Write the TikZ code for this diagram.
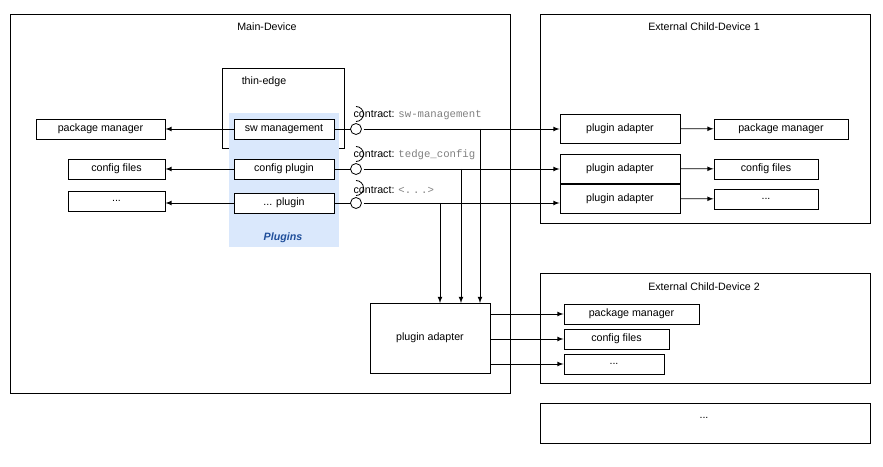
\documentclass[tikz,border=0pt]{standalone}
\usepackage{fontspec}
\setmainfont{Liberation Sans}
\setmonofont{Liberation Mono}
\usetikzlibrary{arrows,calc}
\tikzset{>=latex}
\definecolor{pluginbg}{HTML}{DAE8FC}
\definecolor{pluginfg}{HTML}{1F4E9A}
\definecolor{contractgray}{HTML}{808080}
\newcommand\anycontract{<.\,.\,.>}

\begin{document}
\begin{tikzpicture}[x=0.75pt,y=-0.75pt,font=\fontsize{8}{9}\selectfont,
    box/.style={draw,fill=white,thick,line width=0.7pt},
    con/.style={line width=0.6pt}]
    \useasboundingbox (0,0) rectangle (883,467);

    % device frames
    \draw[box] (10,14) rectangle (510,393);
    \node at (267,27) {Main-Device};
    \draw[box] (540,14) rectangle (870,223);
    \node at (704,27) {External Child-Device 1};
    \draw[box] (540,273) rectangle (870,383);
    \node at (704,287) {External Child-Device 2};
    \draw[box] (540,403) rectangle (870,443);
    \node at (704,418) {...};

    \draw[box] (222,68) rectangle (344,148);
    \node at (264,82) {thin-edge};
    \fill[pluginbg] (229,113) rectangle (339,247);
    \node[text=pluginfg,font=\fontsize{8}{9}\selectfont\bfseries\itshape] at (283,238) {Plugins};

    % plugins
    \node[box,minimum width=75pt,minimum height=15pt] (sw) at (284,129) {sw management};
    \node[box,minimum width=75pt,minimum height=15pt] (cfg) at (284,169) {config plugin};
    \node[box,minimum width=75pt,minimum height=15pt] (dots) at (284,203) {... plugin};

    % local targets
    \node[box,minimum width=96.75pt,minimum height=15pt] (pmL) at (100.5,129) {package manager};
    \node[box,minimum width=72.75pt,minimum height=15pt] (cfL) at (116.5,169) {config files};
    \node[box,minimum width=72.75pt,minimum height=15pt] (dtL) at (116.5,201) {...};
    \draw[con,->] (sw) -- (pmL);
    \draw[con,->] (cfg) -- (cfL);
    \draw[con,->] (dots.west) -- (dtL.east |- dots.west);

    % contracts
    \foreach \n/\y/\c in {cS/129/sw-management,cC/169/tedge\_config,cD/203/\anycontract}{
        \coordinate (\n) at (356,\y);
        \draw[con,fill=white] (\n) circle (5.5);
        \draw[con] ($(\n)+(0,-7.5)$) arc (90:-90:7.5);
        \node[anchor=south west,inner sep=1pt] at (352,\y-8) {contract: \textcolor{contractgray}{\texttt{\c}}};
    }
    \draw[con] (sw) -- ($(cS)+(-5.5,0)$);
    \draw[con] (cfg) -- ($(cC)+(-5.5,0)$);
    \draw[con] (dots) -- ($(cD)+(-5.5,0)$);

    % child device 1
    \node[box,minimum width=90pt,minimum height=21.75pt] (pa1) at (620,128.5) {plugin adapter};
    \node[box,minimum width=90pt,minimum height=21.75pt] (pa2) at (620,168.5) {plugin adapter};
    \node[box,minimum width=90pt,minimum height=21.75pt] (pa3) at (620,198.5) {plugin adapter};
    \node[box,minimum width=100.5pt,minimum height=15pt] (pm1) at (781,129) {package manager};
    \node[box,minimum width=78pt,minimum height=15pt] (cf1) at (766,169) {config files};
    \node[box,minimum width=78pt,minimum height=15pt] (dt1) at (766,199) {...};
    \draw[con,->] (pa1) -- (pm1);
    \draw[con,->] (pa2) -- (cf1);
    \draw[con,->] (pa3) -- (dt1);
    \draw[con,->] ($(cS)+(7.5,0)$) -- (pa1.west |- cS);
    \draw[con,->] ($(cC)+(7.5,0)$) -- (pa2.west |- cC);
    \draw[con,->] ($(cD)+(7.5,0)$) -- (pa3.west |- cD);

    % central adapter
    \node[box,minimum width=90pt,minimum height=52.5pt] (pa) at (430,338) {plugin adapter};
    \draw[con,->] (480,129) -- (480,303);
    \draw[con,->] (461,169) -- (461,303);
    \draw[con,->] (440,203) -- (440,303);

    % child device 2
    \node[box,minimum width=101.25pt,minimum height=15pt] (pm2) at (631.5,314) {package manager};
    \node[box,minimum width=78.75pt,minimum height=15pt] (cf2) at (616.5,339) {config files};
    \node[box,minimum width=75pt,minimum height=15pt] (dt2) at (614,364) {...};
    \draw[con,->] (pa.east |- pm2) -- (pm2);
    \draw[con,->] (pa.east |- cf2) -- (cf2);
    \draw[con,->] (pa.east |- dt2) -- (dt2);
\end{tikzpicture}
\end{document}
